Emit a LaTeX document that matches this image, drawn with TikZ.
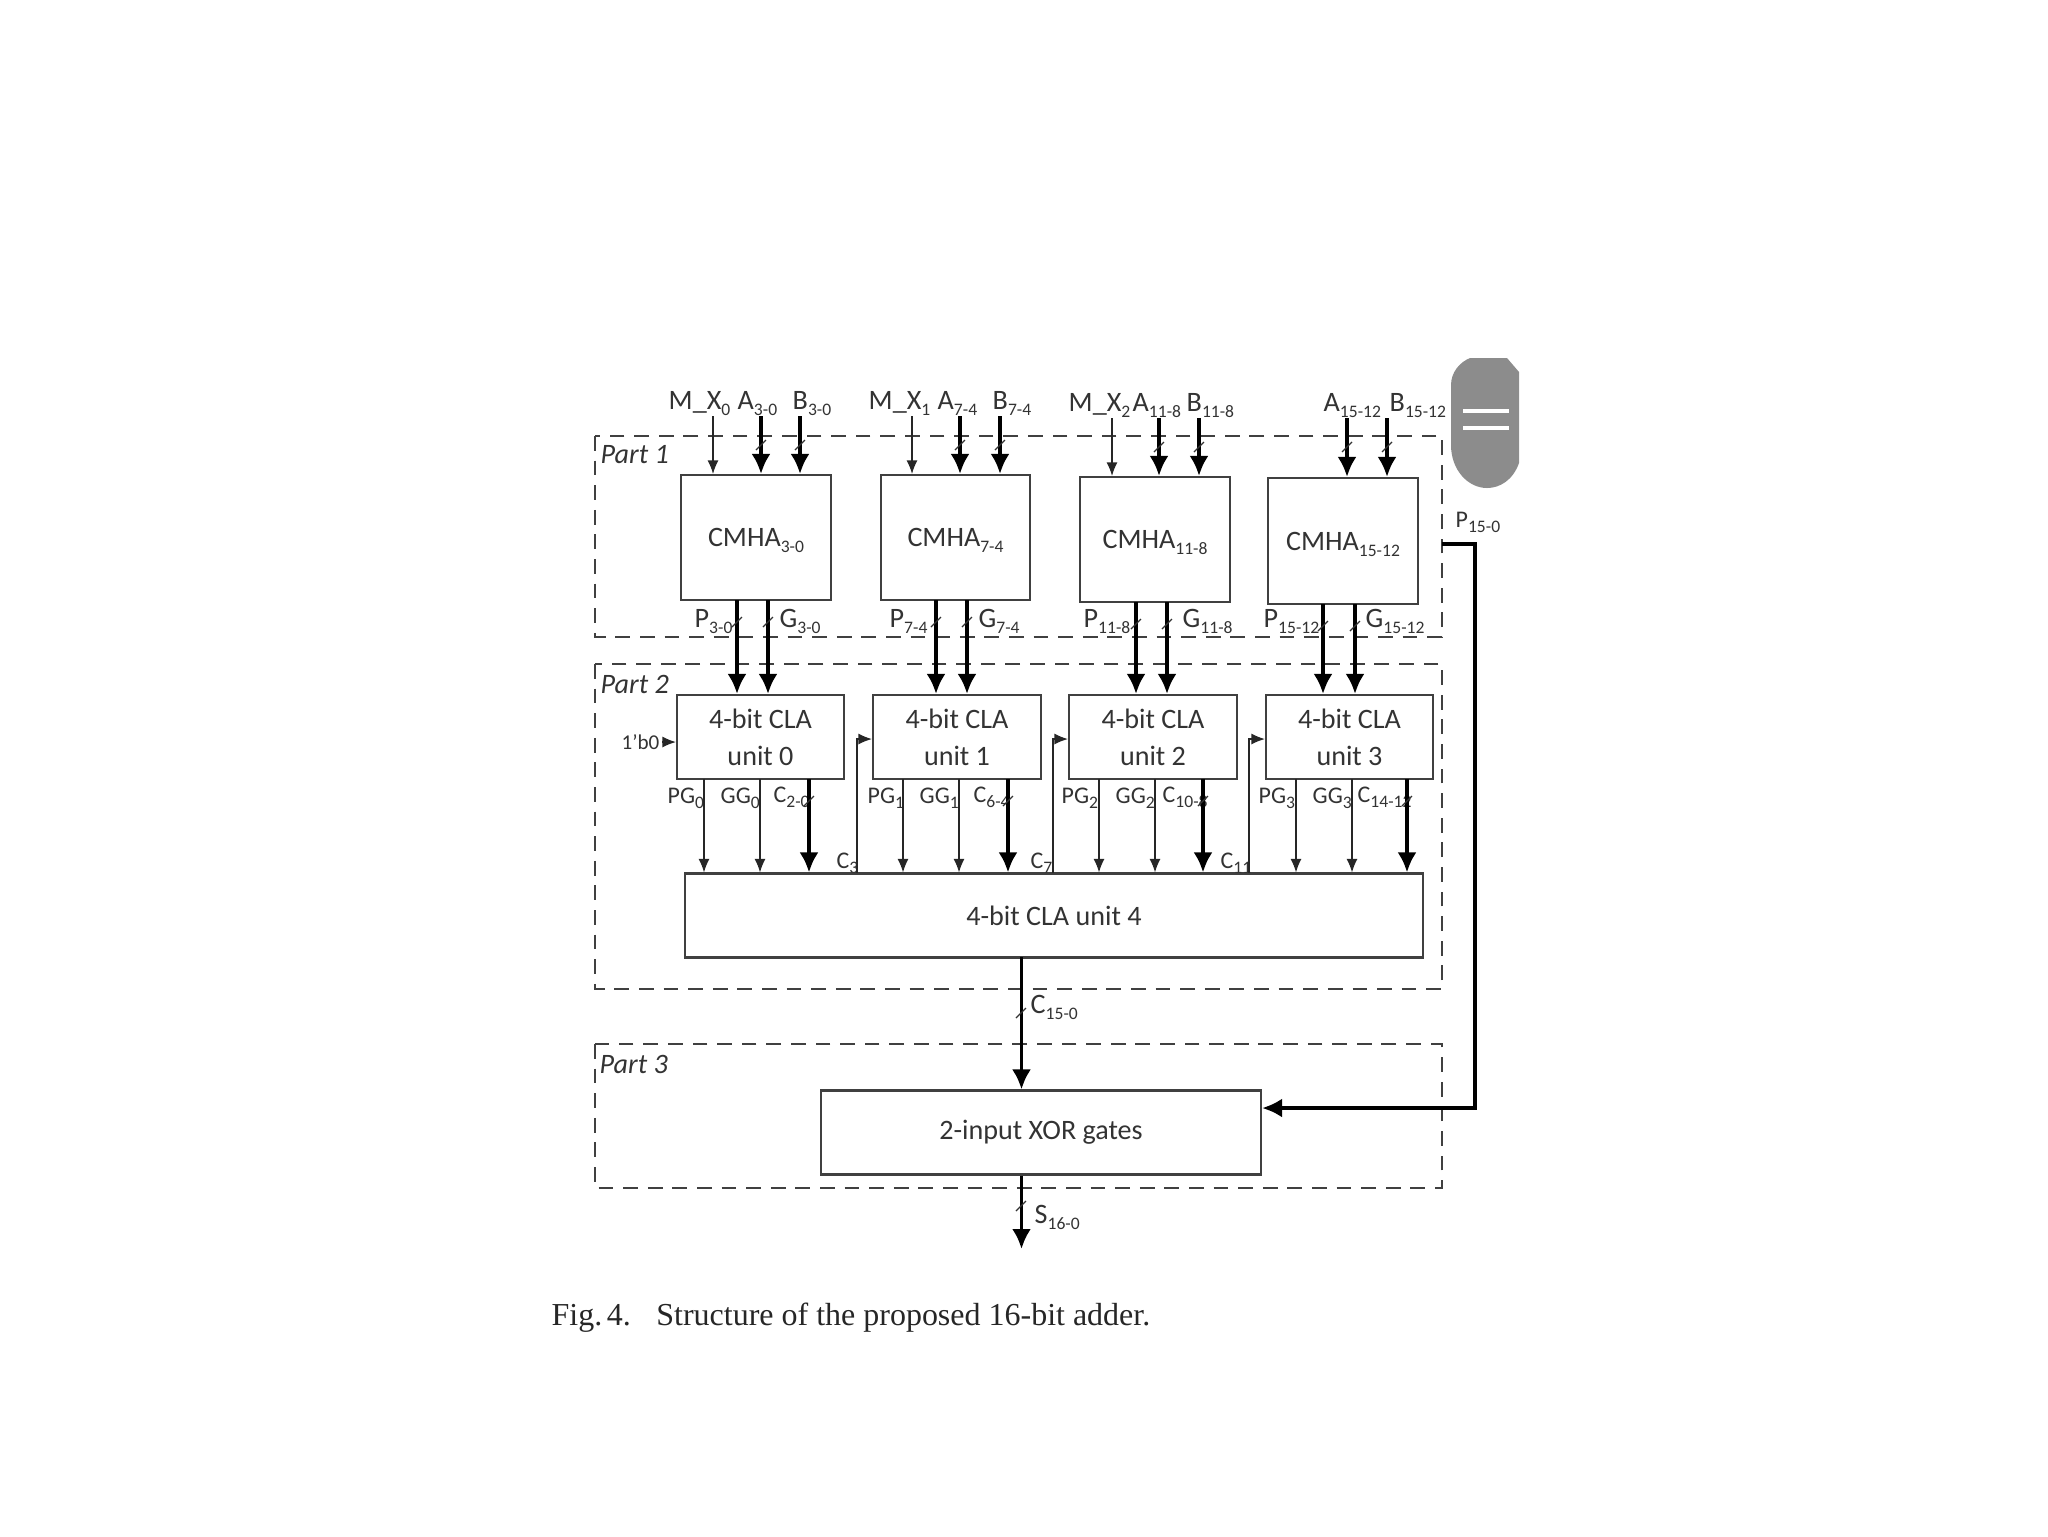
\documentclass[tikz,border=0pt]{standalone}
\usepackage{fontspec}
\setmainfont{Carlito}
\newfontfamily\capfont{Liberation Serif}
\usetikzlibrary{arrows.meta,calc}
\colorlet{dark grey}{black!75}
\colorlet{blob grey}{black!45}
\tikzstyle{box} = [draw=dark grey,line width=.6pt,inner sep=0,align=center,text=black!80,font=\fontsize{8}{10.5}\selectfont]
\tikzstyle{lab} = [inner sep=0,anchor=base west,text=black!80,font=\fontsize{8}{9}\selectfont]
\tikzstyle{slab} = [lab,font=\fontsize{6.8}{8}\selectfont]
\tikzstyle{part} = [draw=dark grey,line width=.5pt,dash pattern=on 4.2pt off 2.8pt]
\tikzstyle{wire} = [draw=black!85,line width=.4pt,-{Latex[length=1.35mm,width=1.1mm]}]
\tikzstyle{bus} = [draw=black,line width=1.1pt,-{Latex[length=2mm,width=1.9mm]}]
\tikzstyle{tick} = [draw=black!80,line width=.35pt]
\newcommand{\lsub}[1]{\smash{\raisebox{-.45ex}{\fontsize{5}{6}\selectfont #1}}}
\begin{document}
\begin{tikzpicture}[x=.1mm,y=-.1mm]
	\useasboundingbox (0,0) rectangle (2048,1536);
	\path[fill=blob grey] (1519,372) to (1507,358) to (1470,358) .. controls (1460,362) and (1451,372) .. (1451,385) to (1451,445) .. controls (1451,470) and (1468,488) .. (1487,488) .. controls (1500,488) and (1513,480) .. (1519,463) to cycle;
	\draw[white,line width=.9pt] (1463,411) to (1509,411) (1463,428) to (1509,428);

	\draw[part] (595,436) rectangle (1442,637);
	\draw[part] (595,664) rectangle (1442,989);
	\draw[part] (595,1044) rectangle (1442,1188);
	\node[lab,font=\fontsize{8}{9}\itshape] (part1) at (600,463) {Part 1};
	\node[lab,font=\fontsize{8}{9}\itshape] (part2) at (600,693) {Part 2};
	\node[lab,font=\fontsize{8}{9}\itshape] (part3) at (599,1073) {Part 3};

	\node[box,minimum width=15mm,minimum height=12.5mm] (cmha0) at (756,537.5) {CMHA\lsub{3-0}};
	\node[box,minimum width=14.9mm,minimum height=12.5mm] (cmha1) at (955.5,537.5) {CMHA\lsub{7-4}};
	\node[box,minimum width=15mm,minimum height=12.5mm] (cmha2) at (1155,539.5) {CMHA\lsub{11-8}};
	\node[box,minimum width=15mm,minimum height=12.6mm] (cmha3) at (1343,541) {CMHA\lsub{15-12}};
	\node[box,minimum width=16.7mm,minimum height=8.4mm] (cla0) at (760.5,737) {4-bit CLA\\unit 0};
	\node[box,minimum width=16.8mm,minimum height=8.4mm] (cla1) at (957,737) {4-bit CLA\\unit 1};
	\node[box,minimum width=16.8mm,minimum height=8.4mm] (cla2) at (1153,737) {4-bit CLA\\unit 2};
	\node[box,minimum width=16.7mm,minimum height=8.4mm] (cla3) at (1349.5,737) {4-bit CLA\\unit 3};
	\node[box,minimum width=73.8mm,minimum height=8.4mm] (cla4) at (1054,915.5) {4-bit CLA unit 4};
	\node[box,minimum width=44mm,minimum height=8.4mm] (xor) at (1041,1132.5) {2-input XOR gates};

	\node[lab] (mx0) at (668,409) {M\_X\lsub{0}};
	\node[lab] (la0) at (737,409) {A\lsub{3-0}};
	\node[lab] (lb0) at (792,409) {B\lsub{3-0}};
	\node[lab] (mx1) at (868,409) {M\_X\lsub{1}};
	\node[lab] (la1) at (937,409) {A\lsub{7-4}};
	\node[lab] (lb1) at (992,409) {B\lsub{7-4}};
	\node[lab] (mx2) at (1068,411) {M\_X\lsub{2}};
	\node[lab] (la2) at (1132,411) {A\lsub{11-8}};
	\node[lab] (lb2) at (1186,411) {B\lsub{11-8}};
	\node[lab] (la3) at (1323,411) {A\lsub{15-12}};
	\node[lab] (lb3) at (1389,411) {B\lsub{15-12}};
	\node[slab] (lp) at (1455,527) {P\lsub{15-0}};

	\node[lab] (lp0) at (694,627) {P\lsub{3-0}};
	\node[lab] (lg0) at (779,627) {G\lsub{3-0}};
	\node[lab] (lp1) at (889,627) {P\lsub{7-4}};
	\node[lab] (lg1) at (978,627) {G\lsub{7-4}};
	\node[lab] (lp2) at (1083,627) {P\lsub{11-8}};
	\node[lab] (lg2) at (1182,627) {G\lsub{11-8}};
	\node[lab] (lp3) at (1263,627) {P\lsub{15-12}};
	\node[lab] (lg3) at (1365,627) {G\lsub{15-12}};

	\node[slab] (lpg0) at (667,803) {PG\lsub{0}};
	\node[slab] (lgg0) at (720,803) {GG\lsub{0}};
	\node[slab] (lc0) at (773,802) {C\lsub{2-0}};
	\node[slab] (lpg1) at (867,803) {PG\lsub{1}};
	\node[slab] (lgg1) at (919,803) {GG\lsub{1}};
	\node[slab] (lc1) at (973,802) {C\lsub{6-4}};
	\node[slab] (lpg2) at (1061,803) {PG\lsub{2}};
	\node[slab] (lgg2) at (1115,803) {GG\lsub{2}};
	\node[slab] (lc2) at (1162,802) {C\lsub{10-8}};
	\node[slab] (lpg3) at (1258,803) {PG\lsub{3}};
	\node[slab] (lgg3) at (1312,803) {GG\lsub{3}};
	\node[slab] (lc3) at (1357,802) {C\lsub{14-12}};
	\node[slab] (lc3a) at (836,868) {C\lsub{3}};
	\node[slab] (lc7) at (1030,868) {C\lsub{7}};
	\node[slab] (lc11) at (1220,868) {C\lsub{11}};
	\node[slab,font=\fontsize{6}{7}\selectfont] (zero) at (621,749) {1'b0};
	\node[lab] (lc15) at (1030,1013) {C\lsub{15-0}};
	\node[lab] (ls) at (1034,1223) {S\lsub{16-0}};

	\coordinate (m0) at (713,416);
	\coordinate (a0) at (761,416);
	\coordinate (b0) at (800,416);
	\coordinate (m1) at (912,416);
	\coordinate (a1) at (960,416);
	\coordinate (b1) at (1000,416);
	\coordinate (m2) at (1112,418);
	\coordinate (a2) at (1159,418);
	\coordinate (b2) at (1199,418);
	\coordinate (a3) at (1347,418);
	\coordinate (b3) at (1387,418);
	\draw[wire] (m0) to (m0 |- cmha0.north);
	\draw[bus] (a0) to (a0 |- cmha0.north);
	\draw[bus] (b0) to (b0 |- cmha0.north);
	\draw[wire] (m1) to (m1 |- cmha1.north);
	\draw[bus] (a1) to (a1 |- cmha1.north);
	\draw[bus] (b1) to (b1 |- cmha1.north);
	\draw[wire] (m2) to (m2 |- cmha2.north);
	\draw[bus] (a2) to (a2 |- cmha2.north);
	\draw[bus] (b2) to (b2 |- cmha2.north);
	\draw[bus] (a3) to (a3 |- cmha3.north);
	\draw[bus] (b3) to (b3 |- cmha3.north);
	\foreach \c in {a0,b0,a1,b1,a2,b2,a3,b3}
		\draw[tick] ($(\c)+(-5,34)$) to ($(\c)+(5,24)$);

	\coordinate (p0) at (737,600);
	\coordinate (g0) at (768,600);
	\coordinate (p1) at (936,600);
	\coordinate (g1) at (967,600);
	\coordinate (p2) at (1136,602);
	\coordinate (g2) at (1167,602);
	\coordinate (p3) at (1323,604);
	\coordinate (g3) at (1355,604);
	\draw[bus] (p0) to (p0 |- cla0.north);
	\draw[bus] (g0) to (g0 |- cla0.north);
	\draw[bus] (p1) to (p1 |- cla1.north);
	\draw[bus] (g1) to (g1 |- cla1.north);
	\draw[bus] (p2) to (p2 |- cla2.north);
	\draw[bus] (g2) to (g2 |- cla2.north);
	\draw[bus] (p3) to (p3 |- cla3.north);
	\draw[bus] (g3) to (g3 |- cla3.north);
	\foreach \c in {p0,g0,p1,g1,p2,g2,p3,g3}
		\draw[tick] ($(\c)+(-5,27)$) to ($(\c)+(5,17)$);

	\coordinate (pg0) at (704,779);
	\coordinate (gg0) at (760,779);
	\coordinate (c0) at (809,779);
	\coordinate (pg1) at (903,779);
	\coordinate (gg1) at (959,779);
	\coordinate (c1) at (1008,779);
	\coordinate (pg2) at (1099,779);
	\coordinate (gg2) at (1155,779);
	\coordinate (c2) at (1203,779);
	\coordinate (pg3) at (1296,779);
	\coordinate (gg3) at (1352,779);
	\coordinate (c3) at (1407,779);
	\draw[wire] (pg0) to (pg0 |- cla4.north);
	\draw[wire] (gg0) to (gg0 |- cla4.north);
	\draw[bus] (c0) to (c0 |- cla4.north);
	\draw[wire] (pg1) to (pg1 |- cla4.north);
	\draw[wire] (gg1) to (gg1 |- cla4.north);
	\draw[bus] (c1) to (c1 |- cla4.north);
	\draw[wire] (pg2) to (pg2 |- cla4.north);
	\draw[wire] (gg2) to (gg2 |- cla4.north);
	\draw[bus] (c2) to (c2 |- cla4.north);
	\draw[wire] (pg3) to (pg3 |- cla4.north);
	\draw[wire] (gg3) to (gg3 |- cla4.north);
	\draw[bus] (c3) to (c3 |- cla4.north);
	\foreach \c in {c0,c1,c2,c3}
		\draw[tick] ($(\c)+(-5,27)$) to ($(\c)+(5,17)$);

	\coordinate (cy1) at (857,873);
	\coordinate (cy2) at (1053,873);
	\coordinate (cy3) at (1249,873);
	\coordinate (turn1) at (857,739);
	\coordinate (turn2) at (1053,739);
	\coordinate (turn3) at (1249,739);
	\draw[wire] (cy1) to (turn1) to (turn1 -| cla1.west);
	\draw[wire] (cy2) to (turn2) to (turn2 -| cla2.west);
	\draw[wire] (cy3) to (turn3) to (turn3 -| cla3.west);
	\coordinate (zin) at (662,742);
	\draw[wire] (zin) to (zin -| cla0.west);

	\coordinate (sum) at (1021.5,957);
	\coordinate (sout) at (1021.5,1249);
	\coordinate (pout) at (1442,544);
	\coordinate (pcor) at (1475,544);
	\coordinate (pin) at (1475,1108);
	\draw[bus] (sum) to (sum |- xor.north);
	\draw[bus] (sum |- xor.south) to (sout);
	\draw[tick] (1016,1018) to (1026,1008);
	\draw[tick] (1016,1211) to (1026,1201);
	\draw[bus] (pout) to (pcor) to (pin) to (pin -| xor.east);

	\node[inner sep=0,anchor=base west,text=black!85,font=\capfont\fontsize{9.1}{10}\selectfont] (caption) at (551,1325) {Fig.\hspace{.14em}4.\hspace{.8em}Structure of the proposed 16-bit adder.};
\end{tikzpicture}
\end{document}
